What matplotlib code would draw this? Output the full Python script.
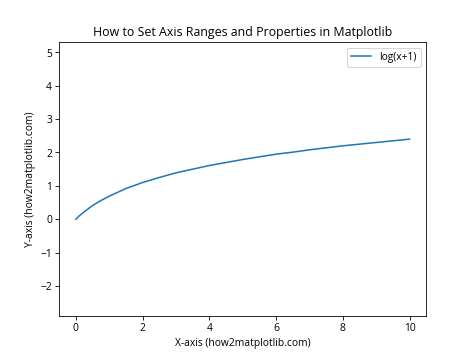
import matplotlib
matplotlib.use('Agg')
import matplotlib.pyplot as plt

plt.rcParams['font.family'] = ['Open Sans', 'DejaVu Sans']

# Values
x_vals = [0, 0.1, 0.25, 0.5, 0.75, 1, 1.5, 2, 2.5, 3, 3.5, 4, 4.5, 5, 5.5, 6,
          6.5, 7, 7.5, 8, 8.5, 9, 9.5, 10]
y_vals = [0, 0.10, 0.22, 0.41, 0.56, 0.69, 0.92, 1.10, 1.25, 1.39, 1.50, 1.61,
          1.70, 1.79, 1.87, 1.95, 2.01, 2.08, 2.14, 2.20, 2.25, 2.30, 2.35, 2.40]
series_label = 'log(x+1)'

fig, ax = plt.subplots(figsize=(6.4, 4.8), dpi=74)
ax.plot(x_vals, y_vals, color='#1f77b4', label=series_label)
ax.set_ylim(-2.9, 5.3)
ax.set_title('How to Set Axis Ranges and Properties in Matplotlib')
ax.set_xlabel('X-axis (how2matplotlib.com)')
ax.set_ylabel('Y-axis (how2matplotlib.com)')
ax.legend(loc='upper right')

fig.savefig('out.png', dpi=74)
